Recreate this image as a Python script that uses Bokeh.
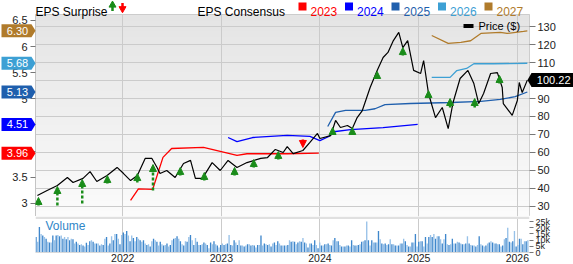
import numpy as np
import pandas as pd
from bokeh.plotting import figure
from bokeh.layouts import column
from bokeh.models import (Range1d, LinearAxis, FixedTicker, Label, Grid,
                          DatetimeTickFormatter, ColumnDataSource, BoxAnnotation,
                          Arrow, NormalHead)
from bokeh.core.properties import value
from bokeh.embed import file_html
from bokeh.resources import INLINE

FONT = "Liberation Sans"

# ---------------- data ----------------
price_dates = ["2021-02-19", "2021-03-27", "2021-05-04", "2021-06-10", "2021-07-01", "2021-08-07",
               "2021-09-02", "2021-09-27", "2021-11-04", "2021-12-11", "2022-01-04", "2022-01-30",
               "2022-02-24", "2022-03-25", "2022-04-19", "2022-05-08", "2022-05-19", "2022-06-13",
               "2022-07-14", "2022-08-14", "2022-09-09", "2022-09-27", "2022-10-23", "2022-11-28",
               "2022-12-28", "2023-01-26", "2023-02-28", "2023-04-06", "2023-05-27", "2023-06-21",
               "2023-07-20", "2023-08-18", "2023-09-02", "2023-09-24", "2023-10-30", "2023-11-25",
               "2023-12-23", "2024-01-01", "2024-02-10", "2024-02-28", "2024-03-17", "2024-04-12",
               "2024-04-30", "2024-05-18", "2024-06-06", "2024-07-05", "2024-07-31", "2024-08-22",
               "2024-09-09", "2024-09-29", "2024-10-19", "2024-11-03", "2024-11-21", "2024-12-13",
               "2025-01-08", "2025-01-19", "2025-02-06", "2025-03-04", "2025-03-29", "2025-04-20",
               "2025-05-08", "2025-06-03", "2025-07-02", "2025-07-24", "2025-08-11", "2025-08-29",
               "2025-09-24", "2025-10-19", "2025-11-06", "2025-11-10", "2025-12-13", "2026-01-01",
               "2026-01-08", "2026-01-19", "2026-02-07"]
price_values = [36.1, 38.9, 41.7, 46.1, 43.3, 45.6, 49.4, 43.9, 47.2, 51.7, 48.3, 44.4,
                47.2, 56.7, 56.7, 51.7, 48.3, 50.0, 46.1, 53.9, 55.6, 45.6, 45.6, 54.4,
                50.0, 55.6, 51.7, 54.4, 56.7, 57.2, 61.7, 60.0, 63.3, 59.4, 61.1, 65.6,
                70.6, 67.8, 69.4, 77.8, 73.9, 75.0, 73.3, 79.4, 83.3, 96.1, 105.6, 112.8,
                115.6, 122.2, 126.7, 118.3, 122.2, 105.6, 103.9, 111.1, 92.8, 79.4, 85.0, 73.3,
                87.8, 101.1, 105.6, 98.3, 87.2, 92.8, 103.9, 104.4, 96.1, 87.2, 80.6, 88.9,
                98.9, 93.3, 100.22]
last_price = 100.22

cons23_dates = ["2022-01-30", "2022-02-28", "2022-04-22", "2022-05-30", "2022-07-01", "2022-10-27",
                "2023-02-28", "2023-04-06", "2023-09-02", "2023-12-28"]
cons23_values = [3.06, 3.28, 3.27, 3.88, 4.05, 4.07, 3.92, 3.95, 3.95, 3.96]
cons24_dates = ["2023-01-26", "2023-02-28", "2023-04-27", "2023-09-02", "2023-11-25", "2024-01-01",
                "2024-02-03", "2024-02-21", "2024-04-23", "2024-08-22", "2024-12-28"]
cons24_values = [4.26, 4.18, 4.26, 4.30, 4.28, 4.20, 4.28, 4.37, 4.41, 4.45, 4.51]
cons25_dates = ["2024-01-30", "2024-02-28", "2024-04-05", "2024-06-17", "2024-07-23", "2024-08-29",
                "2024-12-01", "2025-05-01", "2025-08-19", "2025-10-30", "2025-12-24", "2026-02-07"]
cons25_values = [4.47, 4.74, 4.78, 4.78, 4.81, 4.89, 4.91, 4.93, 4.95, 4.99, 5.04, 5.13]
cons26_dates = ["2025-02-18", "2025-04-27", "2025-05-22", "2025-06-27", "2025-07-24", "2025-10-05",
                "2026-02-07"]
cons26_values = [5.41, 5.41, 5.54, 5.58, 5.67, 5.67, 5.68]
cons27_dates = ["2025-02-18", "2025-04-20", "2025-06-06", "2025-07-12", "2025-08-19", "2025-10-30",
                "2025-11-24", "2026-01-24", "2026-02-07"]
cons27_values = [6.21, 6.06, 6.08, 6.11, 6.25, 6.27, 6.25, 6.29, 6.30]

consensus_years = ["2023", "2024", "2025", "2026", "2027"]
consensus_latest = [3.96, 4.51, 5.13, 5.68, 6.30]
consensus_colors = ["#ff0000", "#0000ff", "#1f5fad", "#3da0d4", "#b07b2b"]

surprise_dates = ["2021-02-23", "2021-05-04", "2021-08-04", "2021-11-05", "2022-02-24", "2022-04-23",
                  "2022-08-02", "2022-10-30", "2023-02-19", "2023-05-01", "2023-07-31", "2023-10-30",
                  "2024-02-17", "2024-04-30", "2024-07-31", "2024-11-03", "2025-02-06", "2025-04-27",
                  "2025-07-27", "2025-10-27"]
surprise_tip = [35.0, 41.1, 45.0, 47.2, 48.3, 53.3, 51.7, 48.9, 51.7, 56.1, 60.6, 62.8,
                73.9, 73.9, 105.0, 118.3, 94.4, 90.0, 90.0, 102.8]
surprise_base = [30.6, 30.6, 31.7, 42.8, 43.3, 38.9, 47.2, 44.4, 47.2, 51.7, 56.1, 67.2,
                 70.0, 70.0, 101.1, 113.9, 90.6, 85.0, 85.0, 98.3]
surprise_positive = [True] * 11 + [False] + [True] * 8

# weekly volume (thousands)
vol_values = [
    12.4, 8.6, 20.5, 14.9, 13.6, 12.4, 11.1, 8.6, 8.1, 8.1, 13.6, 9.8, 13.6, 14.1, 13.1, 13.6,
    11.1, 12.4, 10.6, 12.4, 9.8, 11.1, 10.6, 7.3, 8.6, 7.3, 6.1, 6.6, 5.6, 4.8, 7.8, 6.1,
    9.1, 9.8, 8.6, 7.3, 7.3, 7.3, 5.6, 6.6, 6.1, 11.1, 12.4, 5.6, 7.3, 13.1, 9.8, 14.9,
    14.9, 11.1, 6.6, 14.1, 16.2, 14.9, 17.4, 13.6, 9.1, 13.6, 11.6, 9.1, 12.4, 11.1, 9.8, 8.6,
    9.8, 7.3, 6.1, 6.6, 4.8, 9.1, 11.1, 9.8, 8.6, 5.6, 8.6, 6.6, 5.6, 6.1, 7.3, 4.8,
    6.1, 9.8, 11.1, 11.6, 13.1, 11.1, 9.1, 6.6, 5.6, 9.1, 8.6, 12.4, 14.1, 9.8, 6.1, 11.6,
    8.6, 6.1, 6.1, 6.6, 8.1, 7.3, 6.1, 3.5, 8.1, 6.6, 9.1, 6.6, 5.6, 4.0, 6.1, 7.3,
    6.1, 6.6, 7.3, 14.1, 6.1, 5.6, 9.8, 8.1, 6.1, 9.8, 5.6, 5.6, 4.8, 5.6, 6.6, 6.6,
    5.6, 6.1, 5.6, 4.0, 6.1, 6.1, 13.6, 5.6, 7.3, 6.6, 6.1, 6.6, 4.8, 7.3, 8.1, 6.1,
    9.1, 7.3, 5.6, 5.6, 5.6, 5.6, 6.1, 9.8, 8.6, 9.1, 8.6, 6.6, 8.1, 9.1, 8.6, 11.6,
    8.1, 7.3, 4.0, 7.3, 7.3, 6.1, 9.8, 6.1, 3.5, 8.1, 5.6, 5.6, 6.6, 6.6, 7.3, 6.1,
    5.6, 9.8, 11.6, 9.1, 9.1, 6.1, 4.8, 4.8, 4.8, 5.6, 5.6, 4.8, 9.8, 6.1, 5.6, 5.6,
    6.1, 6.6, 8.6,
    9.1, 9.8, 25.0, 9.8, 5.6, 9.8, 8.1, 8.1, 8.1, 17.4, 10.6, 7.3, 6.6, 7.3, 6.1, 6.6,
    10.6, 6.6, 6.6, 5.6, 5.6, 5.6, 7.3, 7.3, 11.1, 9.1, 6.1, 4.8, 4.8, 8.1, 8.1, 14.9,
    4.8, 8.6, 9.1, 9.1, 4.8, 12.4, 7.3, 12.4, 14.1, 12.4, 14.9, 11.1, 13.1, 13.1, 10.6, 7.3,
    10.6, 14.9, 6.6, 6.1, 6.6, 11.1, 7.3, 7.3, 8.6, 8.1, 7.3, 6.6, 6.6, 7.3, 13.1, 7.3,
    6.1, 5.6, 5.6, 4.8, 6.1, 13.1, 6.6, 5.6, 4.8, 5.6, 7.3, 8.1, 9.1, 8.1, 7.3, 7.3,
    6.6, 6.6, 4.8, 5.6, 10.6, 11.6, 19.9, 8.6, 8.1, 9.1, 17.4, 4.8, 6.1, 11.1, 11.1, 6.6,
    9.1, 9.1, 9.8]
vol_first, vol_last = "2021-02-14", "2026-02-09"

year_ticks = [2022, 2023, 2024, 2025, 2026]
eps_ticks = [3, 3.5, 4, 4.5, 5, 5.5, 6, 6.5]
eps_tick_labels = ["3", "3.5", "4", "4.5", "5", "5.5", "6", "6.5"]
price_ticks = [30, 40, 50, 60, 70, 80, 90, 100, 110, 120, 130]
vol_ticks = [0, 5, 10, 15, 20, 25]
vol_tick_labels = ["0", "5k", "10k", "15k", "20k", "25k"]

# ---------------- layout constants ----------------
x_start, x_end = "2021-02-12", "2026-02-15"
price_lo, price_hi = 24.44, 136.67
eps_lo, eps_hi = 2.75, 6.612
W, H_MAIN, H_VOL = 573, 216, 48
H_ALL = H_MAIN + H_VOL
BL, BR, BT = 35, 44, 14
FRAME_W = W - BL - BR
FRAME_H = H_MAIN - BT
vol_top, sep_bottom = 29.0, 27.0

GREEN, RED = "#1a8c1a", "#ff0000"
GRID = "#cbcbcb"


def ms(t):
    return pd.Timestamp(t).value / 1e6


x0, x1 = ms(x_start), ms(x_end)


def cx(px):  # canvas pixel -> x data (annotation placement inside the frame)
    return x0 + (px - BL) * (x1 - x0) / FRAME_W


def cy(py):  # canvas pixel -> price data (annotation placement inside the frame)
    return price_hi - (py - BT) * (price_hi - price_lo) / FRAME_H


def eps_px(v):  # eps value -> canvas pixel row (for the outside tags)
    return BT + (eps_hi - v) / (eps_hi - eps_lo) * FRAME_H


def price_px(v):
    return BT + (price_hi - v) / (price_hi - price_lo) * FRAME_H


year_ms = [ms(f"{y}-01-01") for y in year_ticks]
xr = Range1d(x0, x1)

# ---------------- main chart ----------------
p = figure(width=W, height=H_MAIN, x_range=xr, y_range=Range1d(price_lo, price_hi),
           x_axis_type="datetime", x_axis_location=None, y_axis_location="right",
           toolbar_location=None, output_backend="svg",
           min_border_left=BL, min_border_right=BR, min_border_top=BT, min_border_bottom=0)
p.extra_y_ranges = {"eps": Range1d(eps_lo, eps_hi)}
p.outline_line_color = "#c4c4c4"
p.background_fill_color = "#efefef"
p.border_fill_color = "white"

# vertical gradient background
n = 64
img = np.zeros((n, 1), dtype=np.uint32)
view = img.view(dtype=np.uint8).reshape((n, 1, 4))
for i in range(n):
    f = i / (n - 1)
    g = int(round(251 - f * (251 - 228)))
    view[i, 0] = [g, g, g, 255]
p.image_rgba(image=[img], x=x0, y=price_lo, dw=x1 - x0, dh=price_hi - price_lo, level="image")

p.ygrid.ticker = FixedTicker(ticks=price_ticks)
p.ygrid.grid_line_color = GRID
if len(p.xgrid) == 0:
    p.add_layout(Grid(dimension=0, ticker=FixedTicker(ticks=year_ms), grid_line_color=GRID))
else:
    p.xgrid.ticker = FixedTicker(ticks=year_ms)
    p.xgrid.grid_line_color = GRID

rax = p.yaxis[0]
rax.ticker = FixedTicker(ticks=price_ticks)
rax.major_label_text_font = FONT
rax.major_label_text_font_size = "11px"
rax.major_label_text_color = "#222222"
rax.major_tick_out = 6
rax.major_tick_in = 0
rax.major_tick_line_color = "#777777"
rax.minor_tick_line_color = None
rax.axis_line_color = None
rax.major_label_standoff = 2

lax = LinearAxis(y_range_name="eps", ticker=FixedTicker(ticks=eps_ticks),
                 major_label_overrides={float(t): l for t, l in zip(eps_ticks, eps_tick_labels)})
lax.major_label_text_font = FONT
lax.major_label_text_font_size = "11px"
lax.major_label_text_color = "#222222"
lax.major_tick_out = 5
lax.major_tick_in = 0
lax.major_tick_line_color = "#777777"
lax.minor_tick_line_color = None
lax.axis_line_color = "#c4c4c4"
lax.major_label_standoff = 3
p.add_layout(lax, "left")

# consensus lines
for d, v, c in zip([cons23_dates, cons24_dates, cons25_dates, cons26_dates, cons27_dates],
                   [cons23_values, cons24_values, cons25_values, cons26_values, cons27_values],
                   consensus_colors):
    p.line(pd.to_datetime(d), v, y_range_name="eps", line_color=c, line_width=1.3)

# price line
p.line(pd.to_datetime(price_dates), price_values, line_color="black", line_width=1.2)

# surprise arrows
sd = pd.to_datetime(surprise_dates)
for positive, color in [(True, GREEN), (False, RED)]:
    idx = [i for i, s in enumerate(surprise_positive) if s == positive]
    src = ColumnDataSource(dict(x=sd[idx], tip=[surprise_tip[i] for i in idx],
                                base=[surprise_base[i] for i in idx]))
    p.add_layout(Arrow(end=NormalHead(size=7, fill_color=color, line_color=color, line_width=1),
                       x_start="x", y_start="base", x_end="x", y_end="tip", source=src,
                       line_color=color, line_width=2.5, line_dash="3 2"))

# price legend (inside the frame)
p.add_layout(BoxAnnotation(left=cx(463), right=cx(473), top=cy(23.5), bottom=cy(27.5),
                           fill_color="black", fill_alpha=1, line_alpha=0))
p.add_layout(Label(x=cx(478), y=cy(25.5), text="Price ($)", text_font=FONT, text_font_size="11px",
                   text_color="black", text_baseline="middle"))

# ---------------- volume chart ----------------
v = figure(width=W, height=H_VOL, x_range=xr, y_range=Range1d(0, vol_top),
           x_axis_type="datetime", y_axis_location="right",
           toolbar_location=None, output_backend="svg",
           min_border_left=BL, min_border_right=BR, min_border_top=0, min_border_bottom=0)
v.outline_line_color = None
v.background_fill_color = "white"
vd = pd.date_range(vol_first, vol_last, periods=len(vol_values))
bar_w = (ms(vol_last) - ms(vol_first)) / (len(vol_values) - 1) * 0.8
vcolors = ["#3f87cc" if i % 2 == 0 else "#97c1e8" for i in range(len(vol_values))]
v.vbar(x=vd, top=vol_values, width=bar_w, fill_color=vcolors, line_alpha=0)

v.xgrid.ticker = FixedTicker(ticks=year_ms)
v.xgrid.grid_line_color = GRID
v.ygrid.visible = False
v.add_layout(BoxAnnotation(bottom=sep_bottom, fill_color="#e0e0e0", fill_alpha=1, line_alpha=0))

xa = v.xaxis[0]
xa.ticker = FixedTicker(ticks=year_ms)
xa.formatter = DatetimeTickFormatter(years="%Y", months="%Y", days="%Y", hours="%Y",
                                     hourmin="%Y", minutes="%Y", minsec="%Y", seconds="%Y",
                                     milliseconds="%Y", microseconds="%Y")
xa.major_label_text_font = FONT
xa.major_label_text_font_size = "10.5px"
xa.major_label_text_color = "#222222"
xa.major_tick_out = 0
xa.major_tick_in = 0
xa.minor_tick_line_color = None
xa.axis_line_color = "#d8d8d8"
xa.major_label_standoff = 1

va = v.yaxis[0]
va.ticker = FixedTicker(ticks=vol_ticks)
va.major_label_overrides = {t: l for t, l in zip(vol_ticks, vol_tick_labels)}
va.major_label_text_font = FONT
va.major_label_text_font_size = "9px"
va.major_label_text_color = "#222222"
va.major_tick_out = 4
va.major_tick_in = 0
va.major_tick_line_color = "#777777"
va.minor_tick_line_color = None
va.axis_line_color = None
va.major_label_standoff = 2

v.add_layout(Label(x=cx(45), y=15.5, text="Volume", text_font=FONT, text_font_size="12px",
                   text_color="#2f86c8"))

# ---------------- transparent overlay (header, value tags) ----------------
ov = figure(width=W, height=H_ALL, x_range=Range1d(0, W), y_range=Range1d(H_ALL, 0),
            x_axis_location=None, y_axis_location=None, toolbar_location=None,
            output_backend="svg", min_border_left=0, min_border_right=0,
            min_border_top=0, min_border_bottom=0)
ov.grid.visible = False
ov.outline_line_color = None
ov.background_fill_alpha = 0
ov.border_fill_alpha = 0

# header: EPS Surprise
ov.text(x=[35], y=[11], text=["EPS Surprise"], text_font=value(FONT), text_font_size="12px",
        text_color="black", text_baseline="alphabetic")
ov.segment(x0=[112], y0=[6], x1=[112], y1=[10.5], line_color=GREEN, line_width=2.5)
ov.scatter(x=[112], y=[4.6], marker="triangle", size=7, fill_color=GREEN, line_color=GREEN)
ov.segment(x0=[122], y0=[2.5], x1=[122], y1=[7], line_color=RED, line_width=2.5)
ov.scatter(x=[122], y=[8.2], marker="inverted_triangle", size=7, fill_color=RED, line_color=RED)

# header: EPS Consensus legend
ov.text(x=[197], y=[11], text=["EPS Consensus"], text_font=value(FONT), text_font_size="12px",
        text_color="black", text_baseline="alphabetic")
sq_x = [302 + k * 46.5 for k in range(len(consensus_years))]
ov.rect(x=sq_x, y=[6] * len(sq_x), width=8, height=8, fill_color=consensus_colors, line_alpha=0)
ov.text(x=[s + 8 for s in sq_x], y=[11] * len(sq_x), text=consensus_years, text_font=value(FONT),
        text_font_size="12px", text_color=consensus_colors, text_baseline="alphabetic")

# consensus value tags at the left
tag_y = [eps_px(val) for val in consensus_latest]
ov.patches(xs=[[1, 31, 35, 31, 1] for _ in tag_y],
           ys=[[t - 6.5, t - 6.5, t, t + 6.5, t + 6.5] for t in tag_y],
           fill_color=consensus_colors, line_alpha=0)
ov.text(x=[17] * len(tag_y), y=tag_y, text=[f"{val:.2f}" for val in consensus_latest],
        text_font=value(FONT), text_font_size="11px", text_color="white",
        text_align="center", text_baseline="middle")

# last price tag at the right edge
py_last = price_px(last_price)
ov.patch(x=[527, 531, 573, 573, 531], y=[py_last, py_last - 7, py_last - 7, py_last + 7, py_last + 7],
         fill_color="black", line_alpha=0)
ov.text(x=[570], y=[py_last], text=[f"{last_price:.2f}"], text_font=value(FONT),
        text_font_size="11px", text_color="white", text_align="right", text_baseline="middle")

# the overlay is a separate root, pinned over the chart's top-left corner
ov.styles = {"position": "absolute", "top": "0px", "left": "0px", "z-index": "5"}

layout = column(p, v, spacing=0)
open("out.html", "w").write(file_html([layout, ov], INLINE))
